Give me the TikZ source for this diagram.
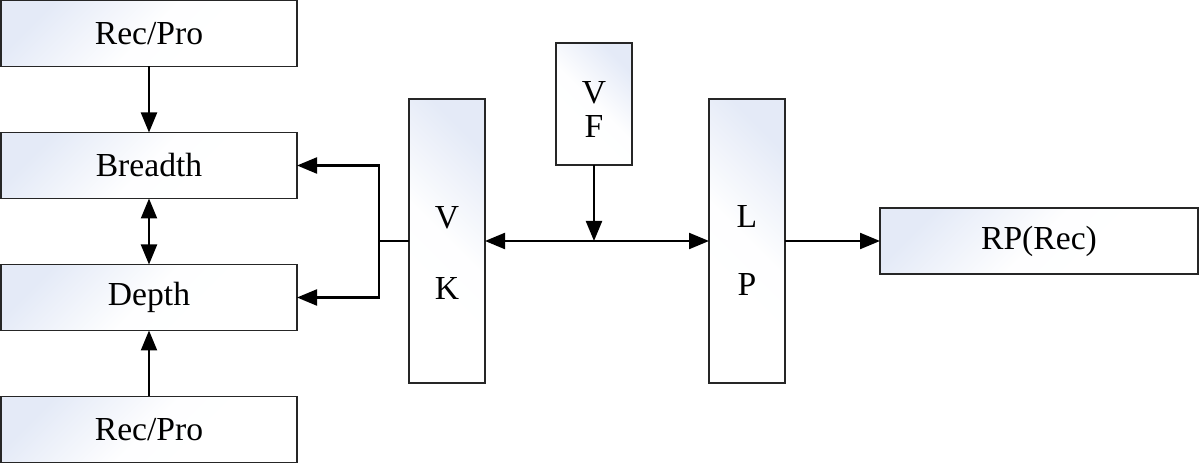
\documentclass[tikz,border=0pt]{standalone}
\usepackage{fontspec}
\setmainfont{Liberation Serif}
\usetikzlibrary{arrows.meta, positioning}
\definecolor{boxblue}{RGB}{228,234,247}
\newcommand{\lowstack}[2]{\raisebox{0pt}[\height][\dimexpr\depth-#1\relax]{\begin{tabular}{@{}c@{}}#2\end{tabular}}}
\tikzstyle{flow}=[line width=1.1pt, >={Triangle[length=10pt,width=8pt]}]
\tikzstyle{block}=[draw=black!85, line width=0.9pt, inner sep=0pt, outer sep=0pt, align=center,
  font=\fontsize{16.8}{17}\selectfont, shading=axis, top color=boxblue, bottom color=white, middle color=white!97!boxblue]
\tikzstyle{wide}=[block, minimum width=148pt, minimum height=33pt, shading angle=45]
\tikzstyle{tall}=[block, minimum width=38pt, minimum height=142pt, shading angle=-45]

\begin{document}
\begin{tikzpicture}[flow]
  \useasboundingbox (0,0) rectangle (600pt,-232pt);
  \node[wide] (rec1) at (74.5pt,-16.75pt) {Rec/Pro};
  \node[wide] (breadth) [below=33pt of rec1] {Breadth};
  \node[wide] (depth) [below=33pt of breadth] {Depth};
  \node[wide] (rec2) [below=33pt of depth] {Rec/Pro};
  \node[tall] (vk) at (223.5pt,-120.5pt) {\lowstack{16pt}{V\\[18.5pt]K}};
  \node[block, minimum width=38pt, minimum height=61pt, shading angle=-45] (vf) at (297pt,-52pt) {\lowstack{10pt}{V\\F}};
  \node[tall] (lp) at (373.5pt,-120.5pt) {\lowstack{13.5pt}{L\\[17pt]P}};
  \node[wide, minimum width=159pt] (rp) [right=47.5pt of lp] {RP(Rec)};
  \coordinate (fork) at ([xshift=-15pt]vk.west);
  \coordinate (meet) at (vf.south |- vk.east);
  \path[->] (rec1) edge (breadth);
  \path[<->] (breadth) edge (depth);
  \path[->] (rec2) edge (depth);
  \draw (vk.west) -- (fork);
  \draw[->] (fork) |- (breadth.east);
  \draw[->] (fork) |- (depth.east);
  \path[<->] (vk.east) edge (lp.west);
  \path[->] (vf) edge (meet);
  \path[->] (lp) edge (rp);
\end{tikzpicture}
\end{document}
